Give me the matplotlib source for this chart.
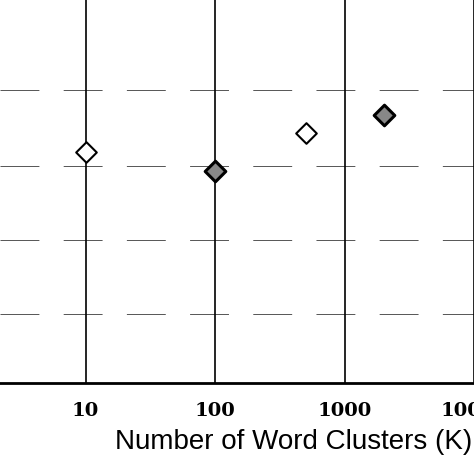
import matplotlib
matplotlib.use("Agg")
import matplotlib.pyplot as plt

open_x = [10, 500]
open_y = [84.1, 86.1]
filled_x = [100, 2000]
filled_y = [82.1, 88.0]
grid_y = [90.6, 82.7, 74.9, 67.2]
vlines_x = [10, 100, 1000, 10000]
xticks = [10, 100, 1000, 10000]
xticklabels = ["10", "100", "1000", "10000"]

fig = plt.figure(figsize=(4.74, 4.74), dpi=100)
ax = fig.add_axes([0.0, 0.192, 1.0, 0.808])
ax.set_xscale("log")
ax.set_xlim(2.18, 9660)
ax.set_ylim(60, 100)
for v in vlines_x:
    ax.axvline(v, color="black", lw=1.2, zorder=1)
for g in grid_y:
    ax.axhline(g, color="#555555", lw=0.7, dashes=(40, 25), zorder=0)
ax.scatter(open_x, open_y, marker="D", s=110, facecolors="white", edgecolors="black", linewidths=1.5, zorder=3)
ax.scatter(filled_x, filled_y, marker="D", s=110, facecolors="#888888", edgecolors="black", linewidths=2.2, zorder=3)
ax.set_xticks(xticks)
ax.set_xticklabels(xticklabels, fontfamily="DejaVu Serif", fontweight="bold", fontsize=14)
ax.minorticks_off()
ax.tick_params(axis="x", length=0, pad=14)
ax.set_yticks([])
for s in ["top", "right", "left"]:
    ax.spines[s].set_visible(False)
ax.spines["bottom"].set_linewidth(2)
ax.set_xlabel("Number of Word Clusters (K)", fontsize=20, fontfamily="Liberation Sans", labelpad=6, x=0.62)
fig.savefig("out.png", dpi=100)
